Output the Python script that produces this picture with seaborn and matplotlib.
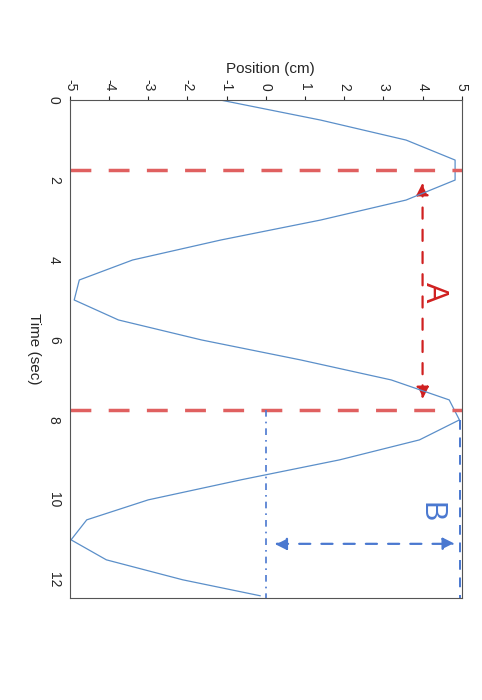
import matplotlib
matplotlib.use("Agg")
import matplotlib.pyplot as plt
import seaborn as sns
import pandas as pd
from matplotlib.patches import FancyArrowPatch

sns.set_style("white")
plt.rcParams['font.family'] = ['Liberation Sans', 'DejaVu Sans']

time = [0, 0.5, 1.0, 1.5, 2.0, 2.5, 3.0, 3.5, 4.0, 4.5, 5.0, 5.5, 6.0, 6.5, 7.0,
        7.5, 8.0, 8.5, 9.0, 9.5, 10.0, 10.5, 11.0, 11.5, 12.0, 12.4]
position = [-1.15, 1.40, 3.58, 4.83, 4.83, 3.58, 1.40, -1.15, -3.40, -4.76, -4.89,
            -3.76, -1.64, 0.89, 3.20, 4.68, 4.94, 3.92, 1.88, -0.64, -3.00, -4.57,
            -4.97, -4.07, -2.12, -0.14]
pos_ticks = [-5, -4, -3, -2, -1, 0, 1, 2, 3, 4, 5]
time_ticks = [0, 2, 4, 6, 8, 10, 12]

df = pd.DataFrame({"t": time, "p": position})
fig = plt.figure(figsize=(4.82, 7.0), dpi=100)
ax = fig.add_axes([0.145, 0.146, 0.813, 0.711])
sns.lineplot(data=df, x="p", y="t", orient="y", sort=False, estimator=None,
             color="#5b8fc9", linewidth=0.9, ax=ax)
ax.set_xlim(-5, 5)
ax.set_ylim(12.45, 0)
ax.xaxis.tick_top()
ax.set_xticks(pos_ticks)
ax.set_xticklabels([str(v) for v in pos_ticks], rotation=-90)
ax.set_yticks(time_ticks)
ax.set_yticklabels([str(v) for v in time_ticks], rotation=-90, va="center")
ax.tick_params(direction="out", length=3, labelsize=10)
ax.set_xlabel("")
ax.set_ylabel("Time (sec)", rotation=-90, labelpad=14, fontsize=11)
fig.text(0.56, 0.895, "Position (cm)", ha="center", fontsize=11)
for s in ax.spines.values():
    s.set_color("#555555"); s.set_linewidth(0.8)

red = "#e06060"
for tv in [1.75, 7.75]:
    ax.axhline(tv, color=red, ls=(0, (6, 5)), lw=2.5)
ax.add_patch(FancyArrowPatch((4.0, 2.0), (4.0, 7.55), arrowstyle="<|-|>", mutation_scale=18,
                             color="#d02020", ls=(0, (5, 5)), lw=1.6))
ax.text(4.3, 4.8, "A", rotation=-90, color="#d02020", fontsize=22, ha="center", va="center")

blue = "#4a78d0"
ax.plot([0, 0], [7.75, 12.45], color=blue, ls=(0, (4, 3, 1, 3)), lw=1.2)
ax.plot([4.95, 4.95], [8.0, 12.45], color=blue, ls=(0, (5, 4)), lw=1.4)
ax.add_patch(FancyArrowPatch((0.15, 11.1), (4.9, 11.1), arrowstyle="<|-|>", mutation_scale=18,
                             color=blue, ls=(0, (5, 5)), lw=1.6))
ax.text(4.2, 10.3, "B", rotation=-90, color=blue, fontsize=22, ha="center", va="center")

fig.savefig("out.png", dpi=100)
